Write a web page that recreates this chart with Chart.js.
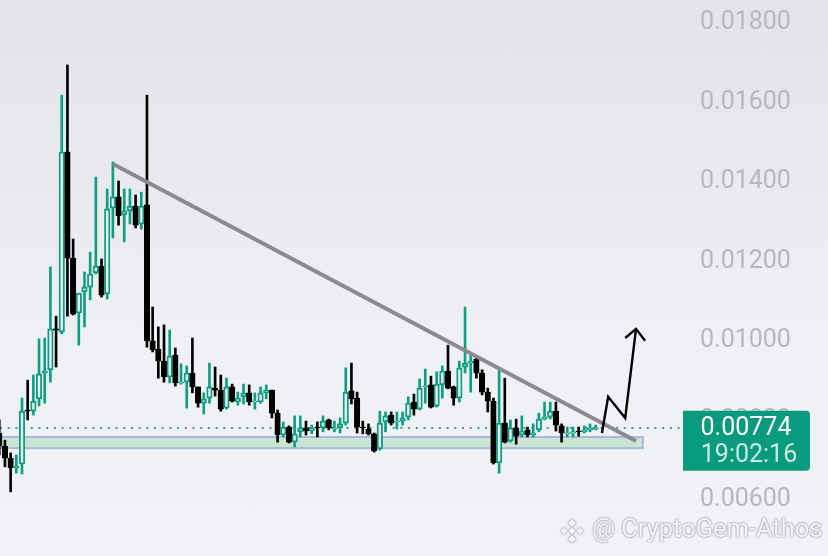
<!DOCTYPE html>
<html>
<head>
<meta charset="utf-8">
<script src="https://cdn.jsdelivr.net/npm/chart.js@4/dist/chart.umd.min.js"></script>
<style>
  html, body { margin: 0; padding: 0; width: 828px; height: 556px; overflow: hidden; }
  body { background: linear-gradient(180deg, #e3e4e8 0%, #e8e9ed 30%, #eff0f3 60%, #f1f2f5 100%); }
  canvas { display: block; }
</style>
</head>
<body>
<canvas id="chart" width="828" height="556"></canvas>
<script>
// Candle prices, oldest first
const openPrices = [
  0.00761,0.00728,0.00698,0.00673,0.00683,0.00819,0.00816,0.00847,0.00912,0.00920,
  0.01023,0.01015,0.01468,0.01201,0.01063,0.01116,0.01128,0.01164,0.01181,0.01111,
  0.01327,0.01355,0.01310,0.01320,0.01332,0.01287,0.01335,0.00993,0.00972,0.00942,
  0.00902,0.00957,0.00887,0.00889,0.00912,0.00877,0.00836,0.00849,0.00874,0.00869,
  0.00824,0.00877,0.00839,0.00852,0.00862,0.00839,0.00839,0.00862,0.00869,0.00811,
  0.00756,0.00776,0.00738,0.00764,0.00774,0.00766,0.00776,0.00774,0.00794,0.00771,
  0.00774,0.00786,0.00867,0.00849,0.00776,0.00771,0.00759,0.00721,0.00789,0.00806,
  0.00789,0.00791,0.00801,0.00839,0.00821,0.00877,0.00882,0.00829,0.00882,0.00917,
  0.00877,0.00849,0.00927,0.00937,0.00947,0.00912,0.00864,0.00841,0.00686,0.00786,
  0.00741,0.00774,0.00756,0.00769,0.00756,0.00769,0.00796,0.00801,0.00816,0.00779,
  0.00759,0.00761,0.00766,0.00764,0.00769,0.00771
];
const highPrices = [
  0.00794,0.00743,0.00711,0.00706,0.00849,0.00894,0.00907,0.00998,0.01000,0.01179,
  0.01055,0.01611,0.01687,0.01249,0.01113,0.01166,0.01216,0.01405,0.01199,0.01375,
  0.01443,0.01395,0.01375,0.01375,0.01360,0.01367,0.01611,0.01078,0.01028,0.01033,
  0.01020,0.00975,0.00935,0.00930,0.01000,0.00877,0.00862,0.00937,0.00927,0.00907,
  0.00899,0.00884,0.00864,0.00884,0.00882,0.00862,0.00877,0.00882,0.00869,0.00819,
  0.00789,0.00779,0.00804,0.00804,0.00791,0.00781,0.00789,0.00804,0.00796,0.00791,
  0.00799,0.00925,0.00937,0.00864,0.00791,0.00784,0.00761,0.00816,0.00814,0.00814,
  0.00814,0.00814,0.00852,0.00859,0.00897,0.00922,0.00904,0.00915,0.00930,0.00982,
  0.00879,0.00942,0.01078,0.00962,0.00952,0.00920,0.00874,0.00849,0.00925,0.00899,
  0.00794,0.00796,0.00804,0.00776,0.00784,0.00811,0.00839,0.00839,0.00839,0.00784,
  0.00776,0.00776,0.00776,0.00779,0.00784,0.00781
];
const lowPrices = [
  0.00706,0.00676,0.00613,0.00660,0.00658,0.00794,0.00806,0.00829,0.00836,0.00889,
  0.00927,0.01010,0.01055,0.01058,0.00982,0.01028,0.01096,0.01161,0.01103,0.01098,
  0.01252,0.01284,0.01242,0.01287,0.01277,0.01274,0.00977,0.00965,0.00899,0.00889,
  0.00887,0.00879,0.00884,0.00824,0.00862,0.00826,0.00809,0.00836,0.00854,0.00816,
  0.00821,0.00839,0.00831,0.00834,0.00831,0.00821,0.00836,0.00847,0.00799,0.00738,
  0.00751,0.00736,0.00726,0.00751,0.00756,0.00759,0.00751,0.00764,0.00769,0.00764,
  0.00761,0.00781,0.00834,0.00761,0.00759,0.00756,0.00713,0.00718,0.00764,0.00781,
  0.00771,0.00781,0.00794,0.00806,0.00819,0.00836,0.00824,0.00826,0.00849,0.00872,
  0.00831,0.00839,0.00912,0.00864,0.00899,0.00857,0.00814,0.00683,0.00660,0.00736,
  0.00738,0.00733,0.00751,0.00751,0.00751,0.00764,0.00794,0.00796,0.00766,0.00738,
  0.00751,0.00751,0.00753,0.00761,0.00764,0.00769
];
const closePrices = [
  0.00728,0.00698,0.00673,0.00678,0.00816,0.00816,0.00841,0.00910,0.00917,0.01023,
  0.01020,0.01468,0.01201,0.01060,0.01113,0.01128,0.01161,0.01181,0.01108,0.01325,
  0.01355,0.01307,0.01320,0.01332,0.01284,0.01332,0.00993,0.00970,0.00942,0.00902,
  0.00955,0.00887,0.00889,0.00912,0.00877,0.00836,0.00847,0.00877,0.00869,0.00821,
  0.00877,0.00841,0.00849,0.00862,0.00839,0.00841,0.00862,0.00869,0.00811,0.00756,
  0.00776,0.00738,0.00759,0.00774,0.00766,0.00774,0.00774,0.00791,0.00774,0.00774,
  0.00784,0.00864,0.00847,0.00776,0.00774,0.00759,0.00716,0.00786,0.00804,0.00786,
  0.00791,0.00799,0.00836,0.00821,0.00874,0.00879,0.00826,0.00884,0.00917,0.00874,
  0.00849,0.00925,0.00937,0.00942,0.00912,0.00864,0.00841,0.00686,0.00786,0.00738,
  0.00774,0.00753,0.00766,0.00756,0.00761,0.00796,0.00801,0.00816,0.00781,0.00761,
  0.00761,0.00764,0.00764,0.00769,0.00774,0.00774
];

// Axis and annotations
const priceTicks = [0.006, 0.008, 0.01, 0.012, 0.014, 0.016, 0.018];
const lastPrice = 0.00774;
const lastPriceLabel = '0.00774';
const countdownLabel = '19:02:16';
const watermarkText = '@ CryptoGem-Athos';
const trendX = [20.02, 112.1];
const trendY = [0.014378, 0.007409];
const arrowX = [106.1, 107.2, 110.2, 112.1];
const arrowY = [0.00761, 0.00852, 0.00799, 0.01023];
const arrowHeadX = [110.2, 112.1, 113.7];
const arrowHeadY = [0.0100, 0.01023, 0.00993];
const zoneRange = [0.00723, 0.00751];
const zoneEndX = 113.3;
const xMin = 0.127;
const xMax = 120.55;
// Tick text sits a little under its price in the reference (about 3px)
const tickLabelDrop = 0.000075;

const GREEN = '#0e9f83';
const BLACK = '#000000';
const HOLLOW = '#eceef1';

const candleUp = openPrices.map((o, i) => closePrices[i] >= o);
const bodyData = openPrices.map((o, i) => ({ x: i, y: [Math.min(o, closePrices[i]), Math.max(o, closePrices[i])] }));
const wickData = highPrices.map((h, i) => ({ x: i, y: [lowPrices[i], h] }));
const toPoints = (xs, ys) => xs.map((x, i) => ({ x, y: ys[i] }));

// Support zone goes under the candles, price tag and watermark go over everything
const overlayPlugin = {
    id: 'overlay',
    beforeDatasetsDraw(chart) {
        const { ctx, scales: { x, y } } = chart;
        const left = x.getPixelForValue(xMin);
        const right = x.getPixelForValue(zoneEndX);
        const top = y.getPixelForValue(zoneRange[1]);
        const bottom = y.getPixelForValue(zoneRange[0]);
        ctx.save();
        ctx.fillStyle = '#cae4d3';
        ctx.fillRect(left, top, right - left, bottom - top);
        ctx.strokeStyle = '#a9b8d8';
        ctx.lineWidth = 2;
        ctx.strokeRect(left - 2, top, right - left + 2, bottom - top);
        ctx.restore();
    },
    afterDraw(chart) {
        const { ctx, scales: { y } } = chart;
        const py = y.getPixelForValue(lastPrice);
        const boxLeft = chart.chartArea.right - 1;
        const boxTop = py - 17;

        ctx.save();
        ctx.fillStyle = '#0a9a7e';
        ctx.beginPath();
        ctx.roundRect(boxLeft, boxTop, 127, 60, [0, 4, 4, 0]);
        ctx.fill();

        ctx.textBaseline = 'middle';
        ctx.textAlign = 'center';
        ctx.font = '25px Roboto';
        ctx.fillStyle = '#ffffff';
        ctx.fillText(lastPriceLabel, 746, py + 1);
        ctx.fillStyle = 'rgba(255,255,255,0.78)';
        ctx.fillText(countdownLabel, 749, py + 28);

        // Watermark
        ctx.shadowColor = 'rgba(50,50,60,0.8)';
        ctx.shadowBlur = 2;
        ctx.fillStyle = '#f5f5f7';
        ctx.textAlign = 'left';
        ctx.font = '25.5px Roboto';
        ctx.fillText(watermarkText, 592, 531);
        const diamonds = [[572, 523, 4], [564, 531, 3.5], [580, 531, 3.5], [572, 531, 3.5], [572, 539, 4]];
        diamonds.forEach(([cx, cy, r]) => {
            ctx.beginPath();
            ctx.moveTo(cx, cy - r);
            ctx.lineTo(cx + r, cy);
            ctx.lineTo(cx, cy + r);
            ctx.lineTo(cx - r, cy);
            ctx.closePath();
            ctx.fill();
        });
        ctx.restore();
    }
};

new Chart(document.getElementById('chart'), {
    type: 'bar',
    data: {
        datasets: [
            {
                type: 'line',
                data: toPoints(arrowHeadX, arrowHeadY),
                borderColor: BLACK,
                borderWidth: 2.4,
                pointRadius: 0,
                order: 1
            },
            {
                type: 'line',
                data: toPoints(arrowX, arrowY),
                borderColor: BLACK,
                borderWidth: 2.4,
                pointRadius: 0,
                order: 1
            },
            {
                type: 'line',
                data: toPoints(trendX, trendY),
                borderColor: '#8b8b8f',
                borderWidth: 4,
                pointRadius: 0,
                order: 2
            },
            {
                data: bodyData,
                grouped: false,
                barThickness: 5.5,
                borderWidth: 1.9,
                borderSkipped: false,
                backgroundColor: candleUp.map(up => up ? HOLLOW : BLACK),
                borderColor: candleUp.map(up => up ? GREEN : BLACK),
                order: 3
            },
            {
                data: wickData,
                grouped: false,
                barThickness: 2,
                borderWidth: 0,
                backgroundColor: candleUp.map(up => up ? GREEN : BLACK),
                order: 4
            },
            {
                type: 'line',
                data: toPoints([xMin, xMax], [lastPrice, lastPrice]),
                borderColor: GREEN,
                borderWidth: 1.8,
                borderDash: [2, 5.7],
                pointRadius: 0,
                order: 5
            }
        ]
    },
    options: {
        responsive: false,
        animation: false,
        layout: { padding: 0 },
        plugins: {
            legend: { display: false },
            tooltip: { enabled: false }
        },
        scales: {
            x: {
                type: 'linear',
                display: false,
                offset: false,
                min: xMin,
                max: xMax
            },
            y: {
                type: 'linear',
                position: 'right',
                min: 0.004516,
                max: 0.018505,
                afterFit: (scale) => {
                    scale.width = 144;
                    // no auto padding for the top and bottom tick labels, the axis runs edge to edge
                    scale.paddingTop = 0;
                    scale.paddingBottom = 0;
                },
                afterBuildTicks: (scale) => { scale.ticks = priceTicks.map(value => ({ value: value - tickLabelDrop })); },
                grid: { display: false, drawTicks: false },
                border: { display: false },
                ticks: {
                    padding: 16,
                    color: '#b7b8bd',
                    font: { family: 'Roboto', size: 25 },
                    callback: (value, index) => priceTicks[index].toFixed(5)
                }
            }
        }
    },
    plugins: [overlayPlugin]
});
</script>
</body>
</html>
